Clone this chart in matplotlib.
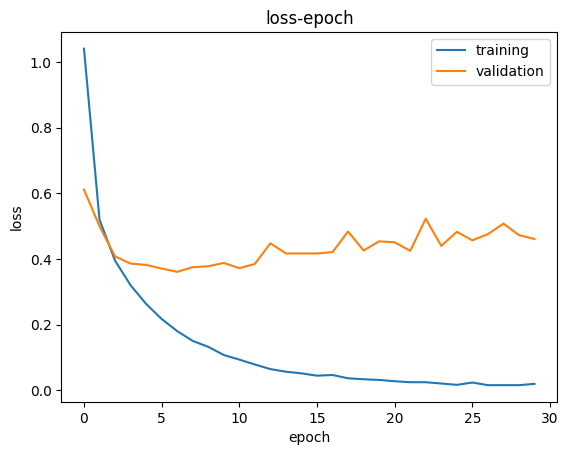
import numpy as np
import matplotlib
matplotlib.use("Agg")
import matplotlib.pyplot as plt

epochs = np.arange(30)
training = [1.042, 0.52, 0.395, 0.32, 0.263, 0.217, 0.18, 0.15, 0.132, 0.107,
            0.093, 0.078, 0.064, 0.056, 0.051, 0.044, 0.046, 0.036, 0.033, 0.031,
            0.027, 0.024, 0.024, 0.020, 0.016, 0.023, 0.015, 0.015, 0.015, 0.019]
validation = [0.612, 0.5, 0.408, 0.386, 0.382, 0.371, 0.361, 0.375, 0.378, 0.388,
              0.372, 0.385, 0.448, 0.417, 0.417, 0.417, 0.421, 0.484, 0.426, 0.454,
              0.451, 0.425, 0.523, 0.44, 0.483, 0.457, 0.476, 0.508, 0.473, 0.461]

fig = plt.figure(figsize=(5.69, 4.55), dpi=100)
plt.subplots_adjust(left=0.108, right=0.979, top=0.930, bottom=0.1165)
plt.plot(epochs, training, label="training")
plt.plot(epochs, validation, label="validation")
plt.title("loss-epoch")
plt.xlabel("epoch")
plt.ylabel("loss")
plt.legend()
plt.savefig("out.png")
